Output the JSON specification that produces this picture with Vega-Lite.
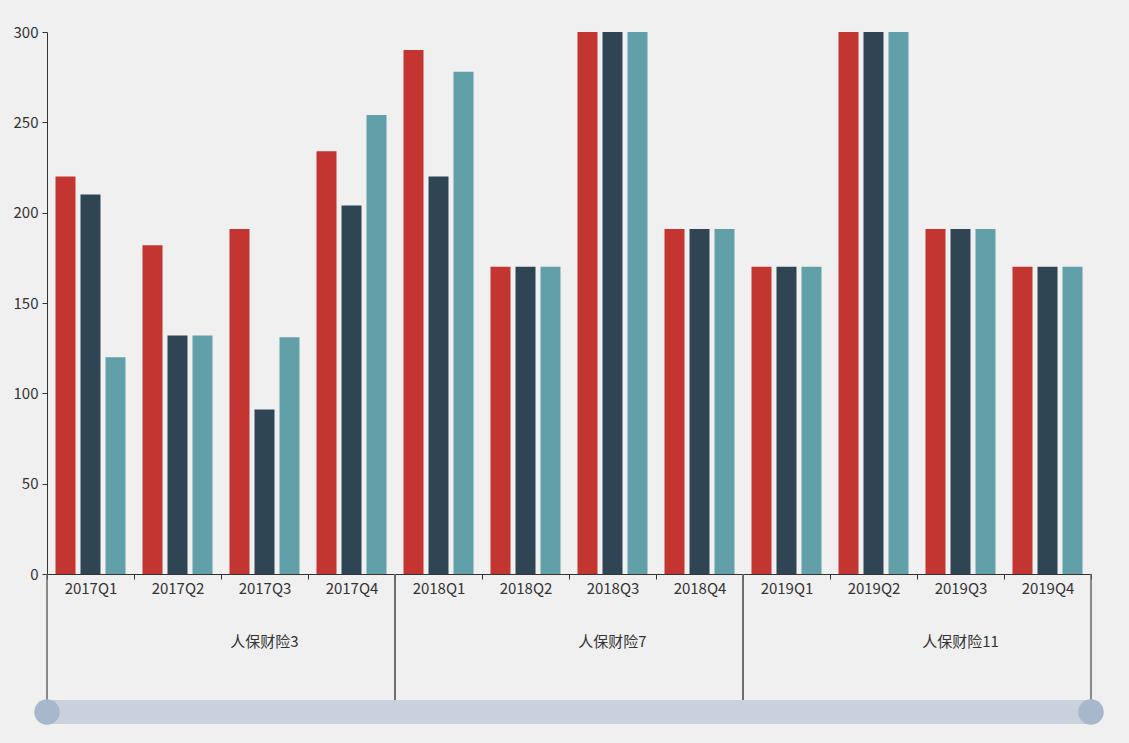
{
  "$schema": "https://vega.github.io/schema/vega-lite/v6.json",
  "width": 1044,
  "height": 542,
  "autosize": {"type": "none"},
  "padding": {"left": 47, "top": 32, "right": 38, "bottom": 169},
  "background": "#f0f0f0",
  "config": {"view": {"stroke": null}, "font": "Noto Sans CJK SC"},
  "datasets": {
    "bars": [
      {"quarter": "2017Q1", "series": "系列1", "value": 220},
      {"quarter": "2017Q1", "series": "系列2", "value": 210},
      {"quarter": "2017Q1", "series": "系列3", "value": 120},
      {"quarter": "2017Q2", "series": "系列1", "value": 182},
      {"quarter": "2017Q2", "series": "系列2", "value": 132},
      {"quarter": "2017Q2", "series": "系列3", "value": 132},
      {"quarter": "2017Q3", "series": "系列1", "value": 191},
      {"quarter": "2017Q3", "series": "系列2", "value": 91},
      {"quarter": "2017Q3", "series": "系列3", "value": 131},
      {"quarter": "2017Q4", "series": "系列1", "value": 234},
      {"quarter": "2017Q4", "series": "系列2", "value": 204},
      {"quarter": "2017Q4", "series": "系列3", "value": 254},
      {"quarter": "2018Q1", "series": "系列1", "value": 290},
      {"quarter": "2018Q1", "series": "系列2", "value": 220},
      {"quarter": "2018Q1", "series": "系列3", "value": 278},
      {"quarter": "2018Q2", "series": "系列1", "value": 170},
      {"quarter": "2018Q2", "series": "系列2", "value": 170},
      {"quarter": "2018Q2", "series": "系列3", "value": 170},
      {"quarter": "2018Q3", "series": "系列1", "value": 330},
      {"quarter": "2018Q3", "series": "系列2", "value": 330},
      {"quarter": "2018Q3", "series": "系列3", "value": 330},
      {"quarter": "2018Q4", "series": "系列1", "value": 191},
      {"quarter": "2018Q4", "series": "系列2", "value": 191},
      {"quarter": "2018Q4", "series": "系列3", "value": 191},
      {"quarter": "2019Q1", "series": "系列1", "value": 170},
      {"quarter": "2019Q1", "series": "系列2", "value": 170},
      {"quarter": "2019Q1", "series": "系列3", "value": 170},
      {"quarter": "2019Q2", "series": "系列1", "value": 330},
      {"quarter": "2019Q2", "series": "系列2", "value": 330},
      {"quarter": "2019Q2", "series": "系列3", "value": 330},
      {"quarter": "2019Q3", "series": "系列1", "value": 191},
      {"quarter": "2019Q3", "series": "系列2", "value": 191},
      {"quarter": "2019Q3", "series": "系列3", "value": 191},
      {"quarter": "2019Q4", "series": "系列1", "value": 170},
      {"quarter": "2019Q4", "series": "系列2", "value": 170},
      {"quarter": "2019Q4", "series": "系列3", "value": 170}
    ],
    "groups": [
      {"group": "人保财险3", "start": "2017Q1", "end": "2017Q4"},
      {"group": "人保财险7", "start": "2018Q1", "end": "2018Q4"},
      {"group": "人保财险11", "start": "2019Q1", "end": "2019Q4"}
    ]
  },
  "layer": [
    {
      "data": {"name": "bars"},
      "mark": {"type": "rect", "color": "#c9d1dc"},
      "encoding": {
        "x": {"field": "quarter", "type": "nominal", "axis": null},
        "y": {"datum": -69.7},
        "y2": {"datum": -83}
      }
    },
    {
      "data": {"name": "bars"},
      "mark": {"type": "bar", "clip": true},
      "encoding": {
        "x": {
          "field": "quarter",
          "type": "nominal",
          "scale": {
            "type": "band",
            "domain": ["2017Q1","2017Q2","2017Q3","2017Q4","2018Q1","2018Q2","2018Q3","2018Q4","2019Q1","2019Q2","2019Q3","2019Q4"],
            "paddingInner": 0,
            "paddingOuter": 0
          },
          "axis": {
            "title": null,
            "orient": "bottom",
            "domainColor": "#333333",
            "tickColor": "#333333",
            "tickSize": 5,
            "tickBand": "extent",
            "labelColor": "#333333",
            "labelFontSize": 15,
            "labelPadding": 2,
            "labelAngle": 0,
            "grid": false
          }
        },
        "xOffset": {
          "field": "series",
          "type": "nominal",
          "sort": null,
          "scale": {"paddingInner": 0.2, "paddingOuter": 0.34}
        },
        "y": {
          "field": "value",
          "type": "quantitative",
          "scale": {"domain": [0, 300], "nice": false, "zero": true},
          "axis": {
            "title": null,
            "values": [0, 50, 100, 150, 200, 250, 300],
            "domainColor": "#333333",
            "tickColor": "#333333",
            "tickSize": 5,
            "labelColor": "#333333",
            "labelFontSize": 15,
            "labelPadding": 4,
            "gridColor": "#cccccc"
          }
        },
        "color": {
          "field": "series",
          "type": "nominal",
          "sort": null,
          "scale": {"range": ["#c23531", "#2f4554", "#61a0a8"]},
          "legend": null
        }
      }
    },
    {
      "data": {"name": "groups"},
      "mark": {"type": "rule", "color": "#666666", "strokeWidth": 1.5},
      "encoding": {
        "x": {
          "field": "start",
          "type": "nominal",
          "bandPosition": 0,
          "axis": {
            "title": null,
            "orient": "bottom",
            "domain": false,
            "ticks": false,
            "grid": false,
            "labelPadding": 60,
            "labelAngle": 0,
            "values": ["2017Q3", "2018Q3", "2019Q3"],
            "labelExpr": "datum.value == '2017Q3' ? '人保财险3' : datum.value == '2018Q3' ? '人保财险7' : '人保财险11'",
            "labelFontSize": 15,
            "labelColor": "#333333"
          }
        },
        "y": {"datum": 0},
        "y2": {"datum": -69.7}
      }
    },
    {
      "data": {"name": "groups"},
      "mark": {"type": "rule", "color": "#666666", "strokeWidth": 1.5},
      "encoding": {
        "x": {"field": "end", "type": "nominal", "bandPosition": 1, "axis": null},
        "y": {"datum": 0},
        "y2": {"datum": -69.7}
      }
    },
    {
      "data": {"values": [{"q": "2017Q1"}]},
      "mark": {"type": "point", "filled": true, "shape": "circle", "color": "#a7b7cc", "opacity": 1, "size": 650},
      "encoding": {
        "x": {"field": "q", "type": "nominal", "bandPosition": 0, "axis": null},
        "y": {"datum": -76.4}
      }
    },
    {
      "data": {"values": [{"q": "2019Q4"}]},
      "mark": {"type": "point", "filled": true, "shape": "circle", "color": "#a7b7cc", "opacity": 1, "size": 650},
      "encoding": {
        "x": {"field": "q", "type": "nominal", "bandPosition": 1, "axis": null},
        "y": {"datum": -76.4}
      }
    }
  ],
  "resolve": {"axis": {"x": "independent"}}
}
